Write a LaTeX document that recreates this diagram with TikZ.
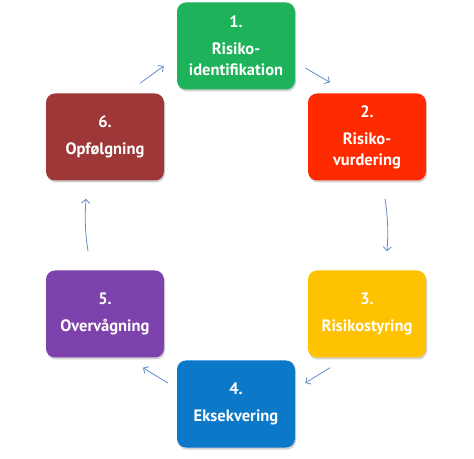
\documentclass[tikz,border=0pt]{standalone}
\usepackage{fontspec}
\setmainfont{PT Sans}
\usepackage{xcolor}
\usepackage{tikz}
\usetikzlibrary{arrows.meta, positioning, calc, shadows}
\definecolor{RiskGreen}{RGB}{30, 178, 90}
\definecolor{RiskRed}{RGB}{255, 42, 0}
\definecolor{RiskYellow}{RGB}{255, 194, 0}
\definecolor{RiskBlue}{RGB}{12, 120, 200}
\definecolor{RiskPurple}{RGB}{126, 66, 172}
\definecolor{RiskDarkRed}{RGB}{158, 56, 56}
\definecolor{RiskArrow}{RGB}{96, 142, 200}

\tikzset{
  phasebox/.style={rounded corners=9pt, minimum width=118pt, minimum height=87pt,
    align=center, text=white, inner sep=2pt,
    font=\fontsize{16.5}{21}\selectfont\bfseries,
    drop shadow={opacity=0.35, shadow xshift=1pt, shadow yshift=-2pt}},
  flow/.style={RiskArrow, line width=0.8pt, -{Straight Barb[length=4pt, width=8pt]}}
}

\begin{document}
\begin{tikzpicture}[x=1pt,y=1pt]
  \path[use as bounding box, fill=white] (0,0) rectangle (474,458);

  % Phases
  \node[phasebox, fill=RiskGreen]   (n1) at (236,412) {1.\\[6pt]Risiko-\\identifikation};
  \node[phasebox, fill=RiskRed]     (n2) at (367,321) {2.\\[6pt]Risiko-\\vurdering};
  \node[phasebox, fill=RiskYellow]  (n3) at (367,144) {3.\\[6pt]Risikostyring};
  \node[phasebox, fill=RiskBlue]    (n4) at (236,54)  {4.\\[6pt]Eksekvering};
  \node[phasebox, fill=RiskPurple]  (n5) at (105,144) {5.\\[6pt]Overvågning};
  \node[phasebox, fill=RiskDarkRed] (n6) at (105,321) {6.\\[6pt]Opfølgning};

  % Cycle arrows
  \draw[flow] ([shift={(10,-22)}]n1.east) -- ([shift={(-37,11)}]n2.north);
  \draw[flow] ([shift={(18,-18)}]n2.south) to[bend left=6] ([shift={(20,19)}]n3.north);
  \draw[flow] ([shift={(-37,-10)}]n3.south) -- ([shift={(10,21)}]n4.east);
  \draw[flow] ([shift={(-9,21)}]n4.west) -- ([shift={(38,-10)}]n5.south);
  \draw[flow] ([shift={(-17,19)}]n5.north) to[bend left=6] ([shift={(-19,-18)}]n6.south);
  \draw[flow] ([shift={(35,10)}]n6.north) -- ([shift={(-13,-20)}]n1.west);
\end{tikzpicture}
\end{document}
